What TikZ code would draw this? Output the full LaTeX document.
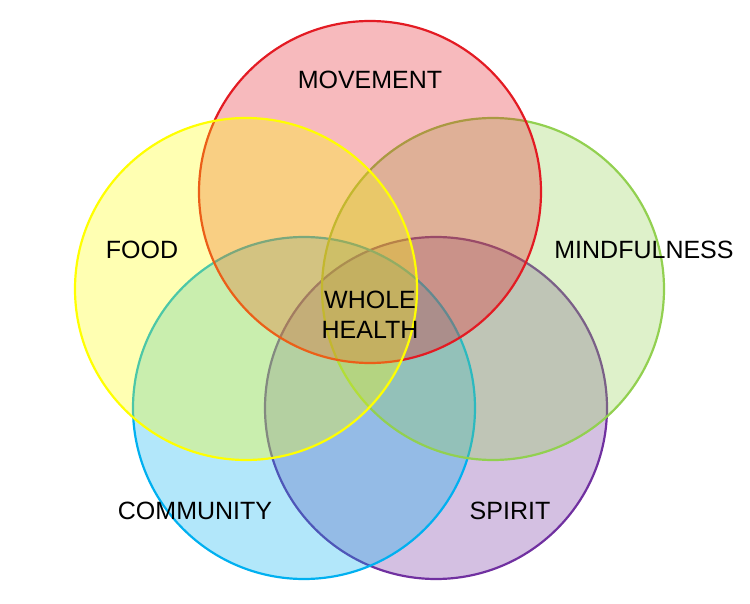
\documentclass[tikz,border=0pt]{standalone}
\usepackage{fontspec}
\setmainfont{Liberation Sans}
\definecolor{cRed}{HTML}{E31B23}
\definecolor{cYellow}{HTML}{FFFF00}
\definecolor{cGreen}{HTML}{92D050}
\definecolor{cCyan}{HTML}{00B0F0}
\definecolor{cPurple}{HTML}{7030A0}
\begin{document}
\begin{tikzpicture}[x=1pt,y=-1pt,
  ring/.style={line width=2.2pt, fill opacity=0.3},
  lbl/.style={font=\fontsize{25}{30}\selectfont, text=black, inner sep=0pt, align=center}]
\useasboundingbox (0,0) rectangle (750,604);
\filldraw[ring, draw=cPurple, fill=cPurple] (436,408) circle (171);
\filldraw[ring, draw=cCyan, fill=cCyan] (304,408) circle (171);
\filldraw[ring, draw=cGreen, fill=cGreen] (493,289) circle (171);
\filldraw[ring, draw=cRed, fill=cRed] (370,192) circle (171);
\filldraw[ring, draw=cYellow, fill=cYellow] (246,289) circle (171);
\node[lbl] (move) at (370,80) {MOVEMENT};
\node[lbl] (food) at (142,250) {FOOD};
\node[lbl] (mind) at (644,250) {MINDFULNESS};
\node[lbl] (whole) at (370,315) {WHOLE\\HEALTH};
\node[lbl] (comm) at (195,511) {COMMUNITY};
\node[lbl] (spirit) at (510,511) {SPIRIT};
\end{tikzpicture}
\end{document}
